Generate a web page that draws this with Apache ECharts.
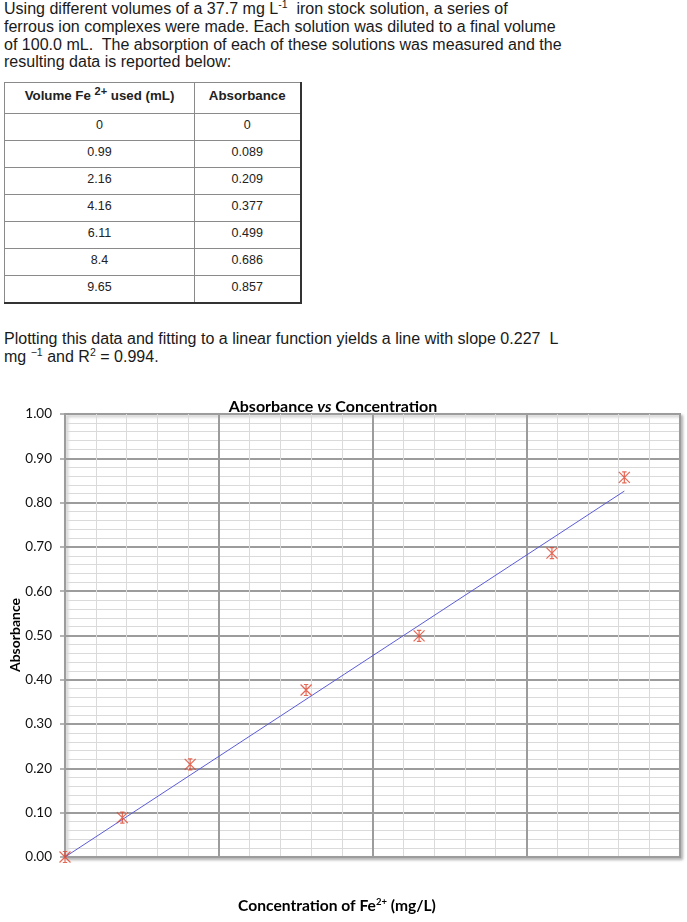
<!DOCTYPE html>
<html>
<head>
<meta charset="utf-8">
<script src="https://cdn.jsdelivr.net/npm/echarts@6/dist/echarts.min.js"></script>
<style>
  html, body { margin: 0; padding: 0; background: #fff; }
  body { width: 687px; height: 922px; position: relative; overflow: hidden; font-family: "Liberation Sans", Arial, sans-serif; color: #1a1a1a; }
  .para { position: absolute; left: 4px; font-size: 16.05px; line-height: 17.8px; white-space: nowrap; }
  .para sup { font-size: 10.5px; line-height: 0; vertical-align: 6px; }
  table { position: absolute; left: 4px; top: 82px; border-collapse: collapse; font-size: 12.5px; color: #222; }
  td, th { border: 1px solid #8a8a8a; text-align: center; vertical-align: top; padding: 0; }
  th { height: 31px; padding-top: 5px; box-sizing: border-box; font-weight: bold; font-size: 13.3px; }
  td { height: 27px; padding-top: 4px; box-sizing: border-box; }
  table { border: 1px solid #333; border-right: 2px solid #333; border-bottom: 2px solid #333; }
  th sup { font-size: 11px; vertical-align: 5px; line-height: 0; }
  #chart { position: absolute; left: 0; top: 390px; width: 687px; height: 532px; }
</style>
</head>
<body>
<div class="para" style="top:0px">Using different volumes of a 37.7 mg L<sup>-1</sup>&nbsp; iron stock solution, a series of<br>ferrous ion complexes were made. Each solution was diluted to a final volume<br>of 100.0 mL.&nbsp; The absorption of each of these solutions was measured and the<br>resulting data is reported below:</div>

<table id="tbl"></table>

<div class="para" style="top:330px">Plotting this data and fitting to a linear function yields a line with slope 0.227&nbsp; L<br>mg <sup>−1</sup> and R<sup>2</sup> = 0.994.</div>

<div id="chart"></div>

<script>
// ---- data ----
const tableVolumes = ["0", "0.99", "2.16", "4.16", "6.11", "8.4", "9.65"];
const tableAbsorbance = ["0", "0.089", "0.209", "0.377", "0.499", "0.686", "0.857"];
const concentration = [0, 0.373, 0.814, 1.568, 2.303, 3.167, 3.638];
const absorbance = [0, 0.089, 0.209, 0.377, 0.499, 0.686, 0.857];
const trendX = [0, 3.638];
const trendY = [0, 0.826];
const yTickLabels = ["0.00","0.10","0.20","0.30","0.40","0.50","0.60","0.70","0.80","0.90","1.00"];

// ---- table ----
const tbl = document.getElementById('tbl');
let html = '<tr><th style="width:190px">Volume Fe <sup>2+</sup> used (mL)</th><th style="width:106px">Absorbance</th></tr>';
for (let i = 0; i < tableVolumes.length; i++) {
  html += '<tr><td>' + tableVolumes[i] + '</td><td>' + tableAbsorbance[i] + '</td></tr>';
}
tbl.innerHTML = html;

// ---- chart ----
const chart = echarts.init(document.getElementById('chart'), null, { renderer: 'canvas' });
const FONT = 'Lato';
const majorColor = '#9c9c9c';
const minorColor = '#dadada';
const scatterData = concentration.map((c, i) => [c, absorbance[i]]);
const trendData = trendX.map((x, i) => [x, trendY[i]]);

chart.setOption({
  animation: false,
  grid: {
    left: 65, right: 7, top: 24, bottom: 65,
    containLabel: false, outerBoundsMode: 'none',
    show: true, borderColor: majorColor, borderWidth: 2,
    backgroundColor: '#fff',
    shadowColor: 'rgba(0,0,0,0.25)', shadowBlur: 3, shadowOffsetX: 2, shadowOffsetY: 2
  },
  graphic: [
    {
      type: 'text',
      style: {
        x: 333, y: 17, align: 'center', verticalAlign: 'middle',
        text: '{b|Absorbance }{i|vs}{b| Concentration}',
        rich: {
          b: { fontFamily: FONT, fontWeight: 'bold', fontSize: 16, fill: '#000' },
          i: { fontFamily: FONT, fontWeight: 'bold', fontStyle: 'italic', fontSize: 16, fill: '#000' }
        }
      }
    },
    {
      type: 'text',
      style: {
        x: 337, y: 516, align: 'center', verticalAlign: 'middle',
        text: '{b|Concentration of Fe}{s|2+}{b| (mg/L)}',
        rich: {
          b: { fontFamily: FONT, fontWeight: 'bold', fontSize: 15.6, fill: '#000', lineHeight: 18 },
          s: { fontFamily: FONT, fontWeight: 'bold', fontSize: 9.5, fill: '#000', lineHeight: 18, padding: [0, 0, 8, 0] }
        }
      }
    },
    {
      type: 'text',
      x: 15, y: 245, rotation: Math.PI / 2,
      style: {
        x: 0, y: 0, align: 'center', verticalAlign: 'middle',
        text: 'Absorbance',
        fontFamily: FONT, fontWeight: 'bold', fontSize: 14, fill: '#000'
      }
    }
  ],
  xAxis: {
    type: 'value', min: 0, max: 4, interval: 1,
    axisLine: { show: true, onZero: false, lineStyle: { color: majorColor, width: 2 } },
    axisTick: { show: false },
    axisLabel: { show: false },
    splitLine: { show: true, lineStyle: { color: majorColor, width: 2 } },
    minorTick: { show: false, splitNumber: 5 },
    minorSplitLine: { show: true, lineStyle: { color: minorColor, width: 1 } }
  },
  yAxis: {
    type: 'value', min: 0, max: 1, interval: 0.1,
    axisLine: { show: true, lineStyle: { color: majorColor, width: 2 } },
    axisTick: { show: true, length: 5, lineStyle: { color: majorColor, width: 1.5 } },
    axisLabel: {
      margin: 13, fontFamily: FONT, fontSize: 13.5, color: '#111',
      formatter: function (v) { return yTickLabels[Math.round(v * 10)]; }
    },
    splitLine: { show: true, lineStyle: { color: majorColor, width: 2 } },
    minorTick: { show: false, splitNumber: 5 },
    minorSplitLine: { show: true, lineStyle: { color: minorColor, width: 1 } }
  },
  series: [
    {
      type: 'line', data: trendData, showSymbol: false, symbol: 'none',
      lineStyle: { color: '#5b5bdb', width: 1 }, z: 3
    },
    {
      type: 'scatter', data: scatterData,
      symbol: 'path://M0,0L10,10M10,0L0,10M5,0L5,10M3,0L7,0M3,10L7,10',
      symbolSize: 11,
      itemStyle: { color: 'rgba(0,0,0,0)', borderColor: '#e0432c', borderWidth: 1.2 },
      z: 4
    }
  ]
});
</script>
</body>
</html>
